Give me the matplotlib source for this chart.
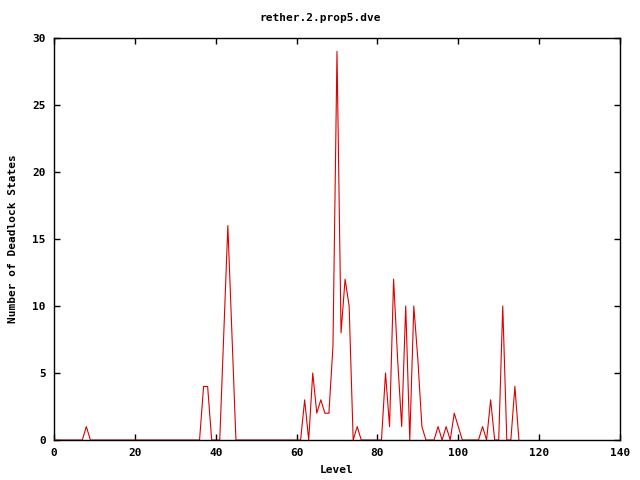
import matplotlib
matplotlib.use('Agg')
import matplotlib.pyplot as plt

# BFS level vs number of deadlock states
levels = list(range(0, 116))
deadlocks = [0, 0, 0, 0, 0, 0, 0, 0, 1, 0,            # 0-9
             0, 0, 0, 0, 0, 0, 0, 0, 0, 0,            # 10-19
             0, 0, 0, 0, 0, 0, 0, 0, 0, 0,            # 20-29
             0, 0, 0, 0, 0, 0, 0, 4, 4, 0,            # 30-39
             0, 0, 8, 16, 8, 0, 0, 0, 0, 0,           # 40-49
             0, 0, 0, 0, 0, 0, 0, 0, 0, 0,            # 50-59
             0, 0, 3, 0, 5, 2, 3, 2, 2, 7,            # 60-69
             29, 8, 12, 10, 0, 1, 0, 0, 0, 0,         # 70-79
             0, 0, 5, 1, 12, 6, 1, 10, 0, 10,         # 80-89
             6, 1, 0, 0, 0, 1, 0, 1, 0, 2,            # 90-99
             1, 0, 0, 0, 0, 0, 1, 0, 3, 0,            # 100-109
             0, 10, 0, 0, 4, 0]                       # 110-115

title = 'rether.2.prop5.dve'
xticks = [0, 20, 40, 60, 80, 100, 120, 140]
yticks = [0, 5, 10, 15, 20, 25, 30]

font = {'family': 'DejaVu Sans Mono', 'weight': 'bold', 'size': 8}

fig = plt.figure(figsize=(6.4, 4.8), dpi=100)
ax = fig.add_axes([54 / 640, 40 / 480, 566 / 640, 402 / 480])

ax.plot(levels, deadlocks, color='#dd0000', linewidth=0.8, zorder=2)

ax.set_xlim(0, 140)
ax.set_ylim(0, 30)
ax.set_xticks(xticks)
ax.set_yticks(yticks)
ax.set_xticklabels([str(t) for t in xticks], fontdict=font)
ax.set_yticklabels([str(t) for t in yticks], fontdict=font)
ax.tick_params(direction='in', length=4, width=1, top=True, right=True, pad=6)

for s in ax.spines.values():
    s.set_linewidth(1)
    s.set_color('black')

ax.set_xlabel('Level', fontdict=font, labelpad=5)
ax.set_ylabel('Number of Deadlock States', fontdict=font, labelpad=10)
fig.text(0.5, 0.962, title, ha='center', va='center', **font)

fig.savefig('out.png', dpi=100)
